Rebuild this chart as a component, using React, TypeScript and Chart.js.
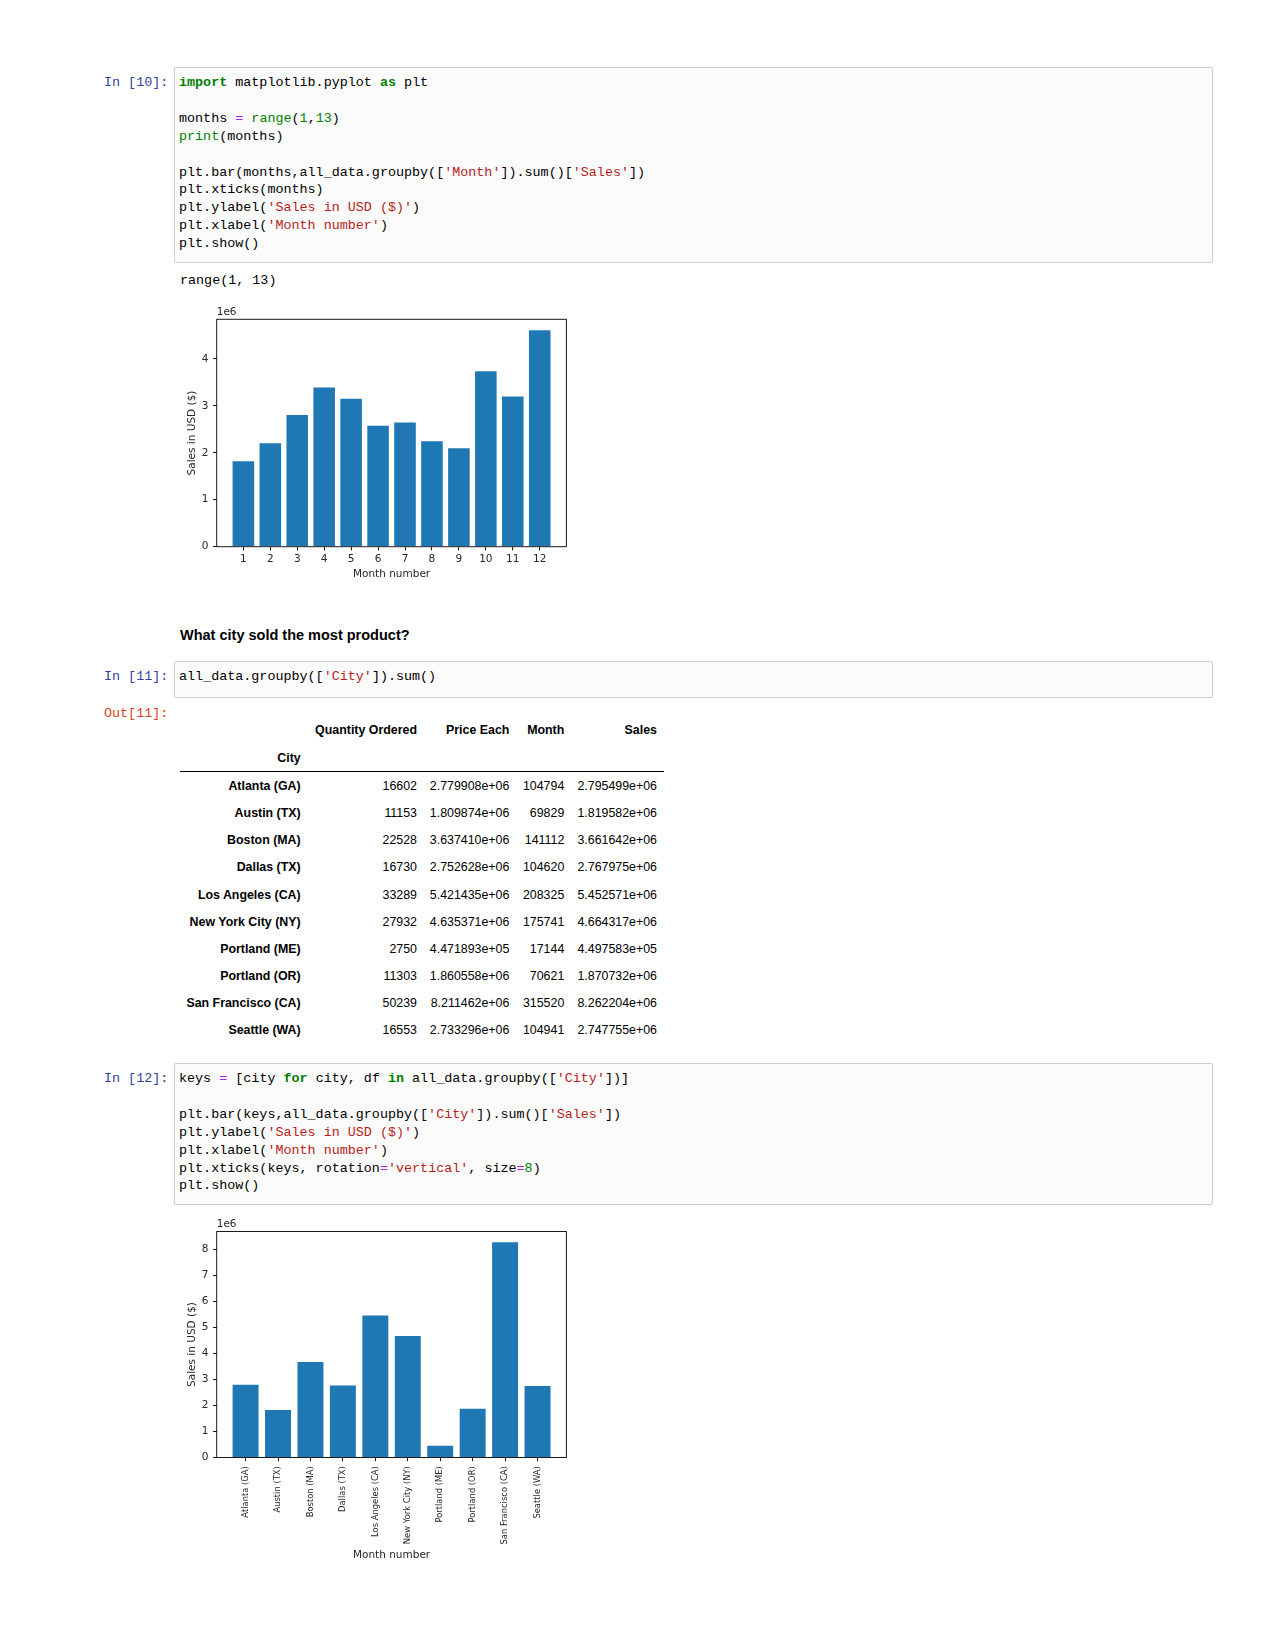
import React, { useEffect, useRef } from "react";
import { Chart, registerables } from "chart.js";

Chart.register(...registerables);

// ---------- data ----------
const months = [1, 2, 3, 4, 5, 6, 7, 8, 9, 10, 11, 12];
const monthSales = [1822257, 2202022, 2807100, 3390670, 3152607, 2577802, 2647776, 2244468, 2097560, 3736727, 3199603, 4613443];
const monthYTicks = [0, 1, 2, 3, 4];

const cities = ["Atlanta (GA)", "Austin (TX)", "Boston (MA)", "Dallas (TX)", "Los Angeles (CA)", "New York City (NY)", "Portland (ME)", "Portland (OR)", "San Francisco (CA)", "Seattle (WA)"];
const cityQuantity = [16602, 11153, 22528, 16730, 33289, 27932, 2750, 11303, 50239, 16553];
const cityPriceEach = [2779908, 1809874, 3637410, 2752628, 5421435, 4635371, 447189.3, 1860558, 8211462, 2733296];
const cityMonth = [104794, 69829, 141112, 104620, 208325, 175741, 17144, 70621, 315520, 104941];
const citySales = [2795499, 1819582, 3661642, 2767975, 5452571, 4664317, 449758.3, 1870732, 8262204, 2747755];
const cityYTicks = [0, 1, 2, 3, 4, 5, 6, 7, 8];
const tableColumns = ["Quantity Ordered", "Price Each", "Month", "Sales"];

// ---------- code cells ----------
type Seg = [string, string];
const cell10: Seg[][] = [
  [["import", "k"], [" matplotlib.pyplot ", ""], ["as", "k"], [" plt", ""]],
  [],
  [["months ", ""], ["=", "o"], [" ", ""], ["range", "b"], ["(", ""], ["1", "n"], [",", ""], ["13", "n"], [")", ""]],
  [["print", "b"], ["(months)", ""]],
  [],
  [["plt.bar(months,all_data.groupby([", ""], ["'Month'", "s"], ["]).sum()[", ""], ["'Sales'", "s"], ["])", ""]],
  [["plt.xticks(months)", ""]],
  [["plt.ylabel(", ""], ["'Sales in USD ($)'", "s"], [")", ""]],
  [["plt.xlabel(", ""], ["'Month number'", "s"], [")", ""]],
  [["plt.show()", ""]],
];
const cell11: Seg[][] = [[["all_data.groupby([", ""], ["'City'", "s"], ["]).sum()", ""]]];
const cell12: Seg[][] = [
  [["keys ", ""], ["=", "o"], [" [city ", ""], ["for", "k"], [" city, df ", ""], ["in", "k"], [" all_data.groupby([", ""], ["'City'", "s"], ["])]", ""]],
  [],
  [["plt.bar(keys,all_data.groupby([", ""], ["'City'", "s"], ["]).sum()[", ""], ["'Sales'", "s"], ["])", ""]],
  [["plt.ylabel(", ""], ["'Sales in USD ($)'", "s"], [")", ""]],
  [["plt.xlabel(", ""], ["'Month number'", "s"], [")", ""]],
  [["plt.xticks(keys, rotation", ""], ["=", "o"], ["'vertical'", "s"], [", size", ""], ["=", "o"], ["8", "n"], [")", ""]],
  [["plt.show()", ""]],
];

const MONO = "'Liberation Mono', 'DejaVu Sans Mono', monospace";
const SANS = "'Liberation Sans', Arial, sans-serif";
const MPL = "'DejaVu Sans'";
const CODE_SIZE = 13.4;
const LINE_H = 17.9;

const segStyle: Record<string, React.CSSProperties> = {
  "": { color: "#000" },
  k: { color: "#008000", fontWeight: "bold" },
  b: { color: "#008000" },
  s: { color: "#BA2121" },
  n: { color: "#008000" },
  o: { color: "#AA22FF" },
};

const sci = (v: number) =>
  v.toExponential(6).replace(/e([+-])(\d)$/, (_m: string, s: string, d: string) => "e" + s + "0" + d);

function TextLine(props: { x: number; cy: number; h: number; style?: React.CSSProperties; children: React.ReactNode }) {
  return (
    <div
      style={{
        position: "absolute",
        left: props.x,
        top: props.cy - props.h / 2,
        height: props.h,
        lineHeight: props.h + "px",
        whiteSpace: "pre",
        ...props.style,
      }}
    >
      {props.children}
    </div>
  );
}

function RightText(props: { right: number; cy: number; h: number; style?: React.CSSProperties; children: React.ReactNode }) {
  return (
    <div
      style={{
        position: "absolute",
        left: props.right - 200,
        width: 200,
        textAlign: "right",
        top: props.cy - props.h / 2,
        height: props.h,
        lineHeight: props.h + "px",
        whiteSpace: "pre",
        ...props.style,
      }}
    >
      {props.children}
    </div>
  );
}

function CodeCell(props: { prompt: string; top: number; bottom: number; firstLine: number; lines: Seg[][] }) {
  const boxLeft = 174;
  const boxRight = 1212.6;
  return (
    <>
      <TextLine x={104} cy={props.firstLine} h={LINE_H} style={{ fontFamily: MONO, fontSize: CODE_SIZE, color: "#303F9F" }}>
        {props.prompt}
      </TextLine>
      <div
        style={{
          position: "absolute",
          left: boxLeft,
          top: props.top,
          width: boxRight - boxLeft,
          height: props.bottom - props.top,
          boxSizing: "border-box",
          border: "1px solid #cfcfcf",
          borderRadius: 2,
          background: "#fbfbfb",
        }}
      />
      {props.lines.map((segs, i) => (
        <TextLine key={i} x={179} cy={props.firstLine + i * LINE_H} h={LINE_H} style={{ fontFamily: MONO, fontSize: CODE_SIZE }}>
          {segs.map((s, j) => (
            <span key={j} style={segStyle[s[1]]}>
              {s[0]}
            </span>
          ))}
        </TextLine>
      ))}
    </>
  );
}

type ChartSpec = {
  left: number;
  top: number;
  width: number;
  height: number;
  area: { left: number; right: number; top: number; bottom: number };
  xs: number[];
  ys: number[];
  xTicks: number[];
  xLabel: (v: number) => string;
  yTicks: number[];
  rotate: boolean;
  xTickSize: number;
  xTickPad: number;
  xTitlePad: number;
};

function BarChartBox({ spec }: { spec: ChartSpec }) {
  const ref = useRef<HTMLCanvasElement>(null);
  useEffect(() => {
    if (!ref.current) return;
    const s = spec;
    const padLeft = 16;
    const yAxisWidth = s.area.left - s.left - padLeft;
    const xAxisHeight = s.top + s.height - s.area.bottom;
    const lo = Math.min(...s.xs) - 0.4;
    const hi = Math.max(...s.xs) + 0.4;
    const m = 0.05 * (hi - lo);
    const yMax = 1.05 * Math.max(...s.ys);
    const textColor = "#262626";

    const framePlugin = {
      id: "frameAndOffset",
      afterDraw(chart: any) {
        const { ctx, chartArea: a } = chart;
        ctx.save();
        ctx.strokeStyle = "#1a1a1a";
        ctx.lineWidth = 1;
        ctx.strokeRect(a.left, a.top, a.right - a.left, a.bottom - a.top);
        ctx.fillStyle = textColor;
        ctx.font = `10.5px ${MPL}`;
        ctx.textBaseline = "bottom";
        ctx.textAlign = "left";
        ctx.fillText("1e6", a.left, a.top - 1.5);
        ctx.restore();
      },
    };

    const chart = new Chart(ref.current, {
      type: "bar",
      data: {
        datasets: [
          {
            data: s.xs.map((x, i) => ({ x, y: s.ys[i] })),
            backgroundColor: "#1f77b4",
            borderWidth: 0,
            barPercentage: 0.8,
            categoryPercentage: 1,
          } as any,
        ],
      },
      options: {
        animation: false,
        responsive: false,
        maintainAspectRatio: false,
        layout: {
          padding: { left: padLeft, right: s.left + s.width - s.area.right, top: s.area.top - s.top, bottom: 0 },
        },
        plugins: { legend: { display: false }, tooltip: { enabled: false } },
        scales: {
          x: {
            type: "linear",
            min: lo - m,
            max: hi + m,
            offset: false,
            grid: { display: true, drawOnChartArea: false, drawTicks: true, tickLength: 3.7, color: "#1a1a1a", offset: false },
            border: { display: false },
            afterBuildTicks: (sc: any) => {
              sc.ticks = s.xTicks.map((v) => ({ value: v }));
            },
            afterFit: (sc: any) => {
              sc.height = xAxisHeight;
            },
            ticks: {
              autoSkip: false,
              maxRotation: s.rotate ? 90 : 0,
              minRotation: s.rotate ? 90 : 0,
              padding: s.xTickPad,
              color: textColor,
              font: { family: MPL, size: s.xTickSize },
              callback: (v: any) => s.xLabel(Number(v)),
            },
            title: {
              display: true,
              text: "Month number",
              color: textColor,
              font: { family: MPL, size: 10.5 },
              padding: { top: 0, bottom: s.xTitlePad },
            },
          } as any,
          y: {
            type: "linear",
            min: 0,
            max: yMax,
            grid: { display: true, drawOnChartArea: false, drawTicks: true, tickLength: 3.7, color: "#1a1a1a" },
            border: { display: false },
            afterBuildTicks: (sc: any) => {
              sc.ticks = s.yTicks.map((v) => ({ value: v * 1e6 }));
            },
            afterFit: (sc: any) => {
              sc.width = yAxisWidth;
            },
            ticks: {
              padding: 4.5,
              color: textColor,
              font: { family: MPL, size: 10.5 },
              callback: (v: any) => String(Math.round(Number(v) / 1e6)),
            },
            title: {
              display: true,
              text: "Sales in USD ($)",
              color: textColor,
              font: { family: MPL, size: 10.5 },
              padding: { top: 0, bottom: 0 },
            },
          } as any,
        },
      },
      plugins: [framePlugin],
    });
    return () => chart.destroy();
  }, [spec]);
  return (
    <canvas
      ref={ref}
      width={spec.width}
      height={spec.height}
      style={{ position: "absolute", left: spec.left, top: spec.top, width: spec.width, height: spec.height }}
    />
  );
}

const monthChart: ChartSpec = {
  left: 170,
  top: 300,
  width: 410,
  height: 290,
  area: { left: 216.7, right: 566.4, top: 319.3, bottom: 546.7 },
  xs: months,
  ys: monthSales,
  xTicks: months,
  xLabel: (v) => String(v),
  yTicks: monthYTicks,
  rotate: false,
  xTickSize: 10.5,
  xTickPad: 3,
  xTitlePad: 9.5,
};

const cityChart: ChartSpec = {
  left: 170,
  top: 1205,
  width: 410,
  height: 370,
  area: { left: 216.7, right: 566.4, top: 1231.5, bottom: 1457.5 },
  xs: cities.map((_c, i) => i),
  ys: citySales,
  xTicks: cities.map((_c, i) => i),
  xLabel: (v) => cities[v] ?? "",
  yTicks: cityYTicks,
  rotate: true,
  xTickSize: 8.4,
  xTickPad: 5,
  xTitlePad: 13.2,
};

export default function App() {
  const tableFont: React.CSSProperties = { fontFamily: SANS, fontSize: 12.4, color: "#000" };
  const colRights = [417, 509.4, 564.3, 657];
  const headerY = 730;
  const rowY0 = 786;
  const rowStep = 27.14;
  return (
    <div style={{ position: "absolute", left: 0, top: 0, width: 1275, height: 1650, background: "#fff", overflow: "hidden" }}>
      <CodeCell prompt="In [10]:" top={67} bottom={263} firstLine={83} lines={cell10} />
      <TextLine x={180} cy={281} h={LINE_H} style={{ fontFamily: MONO, fontSize: CODE_SIZE, color: "#000" }}>
        range(1, 13)
      </TextLine>
      <BarChartBox spec={monthChart} />

      <TextLine x={180} cy={635} h={20} style={{ fontFamily: SANS, fontSize: 14.5, fontWeight: "bold", color: "#000" }}>
        What city sold the most product?
      </TextLine>

      <CodeCell prompt="In [11]:" top={661} bottom={698} firstLine={677} lines={cell11} />
      <TextLine x={104} cy={713.5} h={LINE_H} style={{ fontFamily: MONO, fontSize: CODE_SIZE, color: "#D84315" }}>
        Out[11]:
      </TextLine>

      {tableColumns.map((c, i) => (
        <RightText key={c} right={colRights[i]} cy={headerY} h={16} style={{ ...tableFont, fontWeight: "bold" }}>
          {c}
        </RightText>
      ))}
      <RightText right={300.7} cy={757.5} h={16} style={{ ...tableFont, fontWeight: "bold" }}>
        City
      </RightText>
      <div style={{ position: "absolute", left: 180, top: 771, width: 484, height: 1, background: "#000" }} />
      {cities.map((c, i) => {
        const cy = rowY0 + i * rowStep;
        return (
          <React.Fragment key={c}>
            <RightText right={300.7} cy={cy} h={16} style={{ ...tableFont, fontWeight: "bold" }}>
              {c}
            </RightText>
            <RightText right={colRights[0]} cy={cy} h={16} style={tableFont}>
              {String(cityQuantity[i])}
            </RightText>
            <RightText right={colRights[1]} cy={cy} h={16} style={tableFont}>
              {sci(cityPriceEach[i])}
            </RightText>
            <RightText right={colRights[2]} cy={cy} h={16} style={tableFont}>
              {String(cityMonth[i])}
            </RightText>
            <RightText right={colRights[3]} cy={cy} h={16} style={tableFont}>
              {sci(citySales[i])}
            </RightText>
          </React.Fragment>
        );
      })}

      <CodeCell prompt="In [12]:" top={1063} bottom={1205} firstLine={1079} lines={cell12} />
      <BarChartBox spec={cityChart} />
    </div>
  );
}
